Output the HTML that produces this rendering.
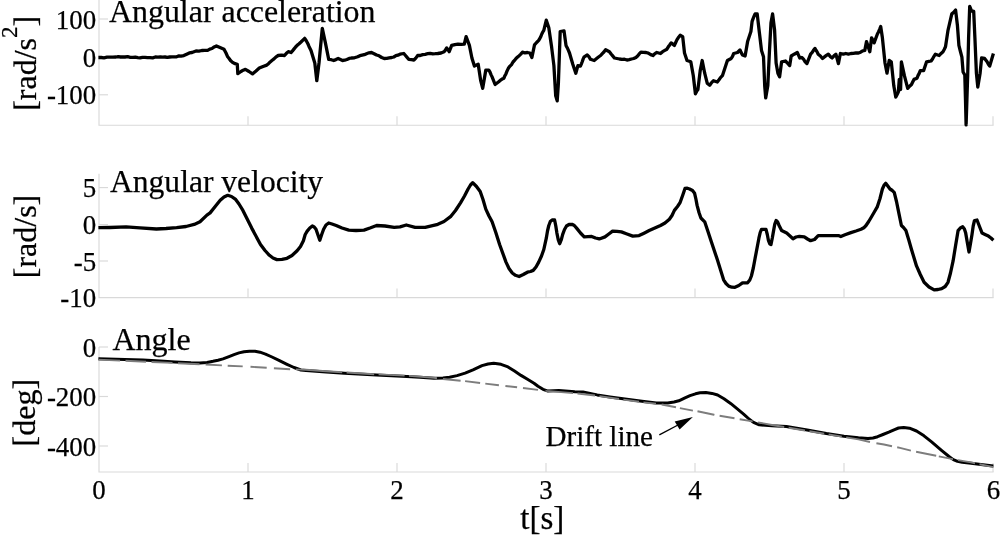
<!DOCTYPE html>
<html lang="en"><head><meta charset="utf-8"><title>Angular acceleration, velocity and angle</title>
<style>
html,body{margin:0;padding:0;background:#fff;}
body{width:1000px;height:535px;overflow:hidden;}
svg{display:block;}
text{font-family:"Liberation Serif","Times New Roman",serif;fill:#000;stroke:#000;stroke-width:0.25px;}
.tk{font-size:26.9px;}
.ti{font-size:31.8px;}
.an{font-size:29.1px;}
.lb{font-size:32px;}
.sup{font-size:23px;}
</style></head><body>
<svg width="1000" height="535" viewBox="0 0 1000 535">
<rect width="1000" height="535" fill="#fff"/>
<g stroke="#d9d9d9" stroke-width="1.15" fill="none">
<path d="M99.0 0.0 V125.2 H993.6"/>
<path d="M248.0 125.2 v-9"/>
<path d="M397.0 125.2 v-9"/>
<path d="M546.0 125.2 v-9"/>
<path d="M695.0 125.2 v-9"/>
<path d="M844.0 125.2 v-9"/>
<path d="M993.0 125.2 v-9"/>
<path d="M99.0 19.0 h9"/>
<path d="M99.0 57.0 h9"/>
<path d="M99.0 94.8 h9"/>
<path d="M99.0 173.7 V297.6 H993.6"/>
<path d="M248.0 297.6 v-9"/>
<path d="M397.0 297.6 v-9"/>
<path d="M546.0 297.6 v-9"/>
<path d="M695.0 297.6 v-9"/>
<path d="M844.0 297.6 v-9"/>
<path d="M993.0 297.6 v-9"/>
<path d="M99.0 187.6 h9"/>
<path d="M99.0 224.6 h9"/>
<path d="M99.0 261.0 h9"/>
<path d="M99.0 347.0 V472.0 H993.6"/>
<path d="M248.0 472.0 v-9"/>
<path d="M397.0 472.0 v-9"/>
<path d="M546.0 472.0 v-9"/>
<path d="M695.0 472.0 v-9"/>
<path d="M844.0 472.0 v-9"/>
<path d="M993.0 472.0 v-9"/>
<path d="M99.0 347.0 h9"/>
<path d="M99.0 396.5 h9"/>
<path d="M99.0 446.0 h9"/>
</g>
<g class="tk" text-anchor="end">
<text x="96.2" y="28.5">100</text>
<text x="96.2" y="66.5">0</text>
<text x="96.2" y="104.3">-100</text>
<text x="96.2" y="197.1">5</text>
<text x="96.2" y="234.1">0</text>
<text x="96.2" y="270.5">-5</text>
<text x="96.2" y="307.1">-10</text>
<text x="96.2" y="356.5">0</text>
<text x="96.2" y="406.0">-200</text>
<text x="96.2" y="455.5">-400</text>
</g>
<g class="tk" text-anchor="middle">
<text x="99.0" y="498.6">0</text>
<text x="248.0" y="498.6">1</text>
<text x="397.0" y="498.6">2</text>
<text x="546.0" y="498.6">3</text>
<text x="695.0" y="498.6">4</text>
<text x="844.0" y="498.6">5</text>
<text x="993.5" y="498.6">6</text>
</g>
<text class="ti" x="109" y="21.8" textLength="266.5" lengthAdjust="spacingAndGlyphs">Angular acceleration</text>
<text class="ti" x="110" y="192.3" textLength="213" lengthAdjust="spacingAndGlyphs">Angular velocity</text>
<text class="ti" x="112.4" y="349.6" textLength="78.3" lengthAdjust="spacingAndGlyphs">Angle</text>
<text class="an" x="545.5" y="445.5">Drift line</text>
<text class="lb" style="font-size:33px" text-anchor="middle" x="542.3" y="529">t[s]</text>
<text class="lb" text-anchor="middle" transform="translate(35.9 63.3) rotate(-90)">[rad/s<tspan class="sup" dy="-18.6">2</tspan><tspan dy="18.6">]</tspan></text>
<text class="lb" text-anchor="middle" transform="translate(36.2 236.5) rotate(-90)">[rad/s]</text>
<text class="lb" text-anchor="middle" transform="translate(34.8 412.7) rotate(-90)">[deg]</text>
<g fill="none" stroke="#000" stroke-linejoin="round" stroke-linecap="butt">
<polyline stroke-width="3.3" points="98.4,57.5 101.2,57.5 104.0,57.8 107.0,57.2 110.0,57.2 113.0,57.2 116.0,57.0 118.2,56.6 120.5,57.0 122.8,56.9 125.0,57.0 127.7,56.7 130.3,57.3 133.0,57.4 135.3,57.2 137.7,57.7 140.0,57.9 142.5,57.4 145.0,57.4 147.5,57.6 150.0,57.6 152.7,57.8 155.3,57.0 158.0,57.2 160.3,56.9 162.7,57.2 165.0,57.0 167.3,57.4 169.7,57.0 172.0,56.9 174.3,56.8 176.6,56.8 179.0,55.9 181.0,56.2 183.8,55.6 186.7,54.2 189.3,52.9 192.0,52.5 196.0,51.0 198.9,51.1 201.8,50.5 204.7,50.3 207.6,50.4 209.8,49.1 212.0,48.5 214.2,46.9 216.4,45.9 220.0,47.5 224.0,49.2 226.0,53.0 227.7,56.8 229.1,58.5 230.5,60.5 232.8,62.6 235.1,63.7 237.3,64.3 237.8,73.7 241.0,71.5 243.2,70.2 245.4,69.4 249.0,71.5 252.5,73.9 254.2,72.5 256.0,71.0 259.3,68.1 263.0,66.5 266.8,65.1 268.5,63.7 270.2,61.9 271.9,60.5 274.0,58.9 276.1,56.8 278.2,55.5 281.4,55.1 284.5,55.5 286.4,53.3 288.3,51.7 291.0,52.5 292.5,50.9 294.1,48.9 295.6,47.0 297.1,45.4 299.1,43.8 301.0,42.0 302.9,40.1 304.7,38.3 306.4,41.0 308.0,44.0 309.0,46.4 310.0,48.4 311.0,50.4 314.8,63.0 316.8,80.7 319.0,63.0 322.3,28.3 325.4,42.9 328.7,59.3 331.2,59.7 333.7,60.5 335.9,59.6 338.2,58.5 340.4,59.5 342.5,60.5 344.7,60.2 346.9,59.5 349.2,58.4 351.4,58.0 354.5,57.8 357.7,56.8 359.9,55.7 362.1,55.2 364.3,54.7 366.5,53.7 369.0,52.8 371.5,52.5 374.1,53.7 376.6,55.0 379.1,55.8 381.7,57.5 384.2,58.5 386.7,58.4 389.2,57.9 391.7,57.5 393.8,57.0 395.9,55.7 397.9,55.2 400.0,54.2 403.8,53.5 405.5,55.5 407.1,57.4 408.8,59.3 411.4,59.6 413.9,60.0 415.8,58.1 417.7,55.5 420.2,55.5 422.7,54.6 425.2,54.3 427.7,53.7 430.2,53.3 432.8,53.8 435.3,53.7 437.8,53.5 441.0,53.0 444.1,51.7 445.4,50.1 446.7,47.9 447.9,49.6 449.2,51.7 451.7,45.4 454.9,44.6 458.0,44.1 461.1,44.3 464.3,44.1 466.1,36.6 469.4,45.4 471.9,58.0 474.4,66.1 478.2,64.3 480.7,80.7 482.7,88.3 485.8,70.1 488.8,70.1 489.9,71.9 491.0,74.6 492.1,76.9 495.1,84.5 498.4,82.0 500.2,80.4 502.1,79.1 503.9,78.2 504.8,75.8 505.7,74.4 506.7,71.8 507.6,69.9 508.5,68.1 510.0,66.1 511.5,64.6 513.0,62.0 514.5,60.4 516.0,58.5 517.6,57.0 519.2,55.7 520.8,54.1 522.4,52.2 524.9,52.8 527.4,52.5 529.9,53.0 530.9,55.2 531.9,57.5 534.5,44.9 536.6,42.5 538.7,40.4 539.7,38.7 540.7,36.8 541.8,34.0 542.8,32.0 543.8,30.3 546.3,20.2 548.8,27.8 551.4,45.4 553.9,65.6 555.7,95.9 557.2,100.9 558.4,83.2 560.2,31.5 564.0,30.8 566.0,45.4 567.2,47.7 568.3,50.2 569.5,53.0 572.8,64.3 575.8,73.2 577.9,65.6 580.4,66.1 581.4,63.8 582.3,61.5 583.2,58.9 584.2,56.8 587.2,55.0 588.9,56.7 590.5,59.3 594.2,60.5 596.3,58.8 598.5,57.0 600.6,55.5 602.3,53.6 603.9,52.0 605.6,49.7 609.4,51.7 611.1,54.0 612.7,55.9 614.4,58.0 616.9,58.5 619.5,59.0 622.0,59.3 624.5,59.2 627.0,60.0 629.2,59.7 631.5,59.0 633.7,58.5 635.9,57.5 637.6,56.0 639.2,53.9 640.9,52.2 643.5,52.3 646.0,52.5 648.3,53.1 650.7,54.6 653.0,55.5 654.9,53.6 656.8,52.5 660.5,53.5 662.6,51.7 664.8,50.4 666.9,49.2 668.3,46.8 669.7,44.9 671.1,42.9 674.4,45.4 675.7,42.5 676.9,39.9 678.2,37.8 680.2,35.3 682.7,36.6 684.5,53.0 687.0,60.5 690.8,61.8 693.3,75.7 695.4,93.8 696.6,91.4 697.9,89.6 700.2,70.6 702.2,60.5 704.7,73.2 707.2,83.2 709.7,85.3 711.6,82.6 713.5,80.7 717.3,82.0 719.0,79.8 720.7,77.4 722.4,75.7 727.4,60.5 731.2,58.5 732.5,56.3 733.7,53.5 737.5,52.5 740.0,49.9 741.2,52.6 742.5,55.0 745.1,56.0 747.6,41.6 750.9,31.5 752.1,21.4 753.1,18.6 754.1,16.2 755.1,13.9 757.2,13.9 759.4,32.8 761.5,50.4 763.5,56.8 764.7,85.8 765.7,97.9 767.8,85.8 769.5,50.4 771.0,22.7 772.6,13.9 774.6,30.3 776.1,63.0 777.9,73.2 779.6,76.9 781.6,61.8 785.4,61.0 787.5,63.2 789.7,65.6 791.2,56.0 794.2,54.2 797.3,52.5 798.5,55.1 799.8,58.0 801.8,57.5 803.5,59.2 805.2,61.9 806.9,63.6 810.6,54.2 812.0,52.7 813.5,50.3 814.9,48.4 816.0,50.3 817.1,51.9 818.2,54.2 820.4,56.0 822.5,58.5 824.4,56.9 826.4,55.4 828.3,54.2 830.2,56.4 832.1,58.0 834.0,55.8 835.9,54.2 838.4,63.6 840.4,53.5 843.3,54.2 845.8,53.5 848.4,54.1 850.9,53.5 853.4,53.4 856.0,52.8 858.5,53.0 860.6,52.2 862.7,50.8 864.8,50.4 866.5,41.6 869.8,51.7 871.6,37.8 872.9,40.4 874.1,42.9 877.4,34.0 878.5,31.9 879.6,29.3 880.7,26.5 882.4,37.8 885.0,63.0 887.0,73.2 889.2,60.5 891.3,61.8 893.8,85.8 895.8,97.1 897.0,94.8 898.3,92.1 899.3,79.4 900.6,89.5 901.4,61.8 904.4,75.7 907.7,88.3 909.6,86.2 911.5,84.5 912.8,81.8 914.0,79.4 917.0,78.2 918.1,75.4 919.2,73.4 920.3,70.6 923.6,70.6 926.6,61.8 928.9,61.4 931.1,61.0 932.5,59.0 934.0,56.3 935.4,54.2 939.2,55.5 941.1,53.4 943.0,51.7 944.2,49.5 945.5,46.7 948.0,30.3 951.8,13.9 953.7,12.4 955.6,10.1 957.4,25.2 958.9,45.4 960.3,51.0 961.9,57.2 963.1,72.0 964.8,75.0 965.5,100.0 966.1,124.9 966.9,100.0 967.7,75.0 968.6,37.8 969.7,6.3 971.5,10.8 973.7,11.4 974.9,37.8 976.4,73.2 977.8,87.0 980.1,73.2 981.6,58.0 984.6,58.5 987.1,61.8 988.4,64.3 989.7,66.1 991.7,59.3 993.4,53.5"/>
<polyline stroke-width="3.3" points="98.4,227.7 110.0,227.5 126.1,226.9 140.0,227.8 156.4,229.0 166.0,228.5 176.6,227.7 186.0,226.5 194.2,224.4 200.0,221.8 206.9,215.1 210.1,212.9 214.0,208.0 220.2,200.3 224.0,197.0 227.7,195.3 231.5,196.5 235.3,199.1 239.0,204.0 242.9,210.4 251.7,228.1 260.5,244.5 265.0,250.5 269.4,255.3 273.0,258.0 276.9,259.6 282.0,259.3 287.0,258.3 292.0,255.5 297.1,250.8 300.5,246.5 303.4,240.7 305.2,234.5 307.2,231.1 309.8,228.0 312.3,226.0 314.2,227.0 316.0,229.3 317.8,234.5 319.8,240.2 321.7,234.5 323.6,229.3 326.0,225.0 328.7,223.0 332.0,224.0 336.2,225.5 342.0,228.0 348.8,230.1 356.0,230.5 364.0,230.1 370.0,228.0 376.6,225.5 385.0,226.0 394.2,227.3 400.0,226.8 406.3,225.0 415.1,227.3 425.2,227.3 437.8,224.3 444.0,221.5 450.5,216.7 455.5,210.5 460.5,202.8 464.5,196.0 468.1,189.0 470.5,185.0 472.7,182.7 476.5,186.5 480.2,191.5 483.0,199.5 485.8,209.1 489.0,216.0 492.1,221.8 495.8,232.5 499.6,244.5 506.0,262.1 509.0,268.5 512.3,273.0 515.5,275.3 519.1,276.5 523.3,274.5 527.4,272.2 530.5,271.5 533.2,270.4 536.0,267.0 538.7,262.1 541.5,256.0 543.8,249.5 546.3,238.2 547.5,231.0 548.8,225.5 550.3,221.5 552.1,220.0 554.6,220.0 555.8,226.0 556.9,233.1 558.3,240.0 559.7,243.7 561.2,240.0 562.7,234.4 564.5,229.5 566.5,226.0 569.0,224.5 572.0,224.3 574.3,225.5 576.6,228.1 580.5,233.0 584.2,236.9 591.7,236.4 595.5,238.0 599.3,238.9 600.0,238.7 605.0,236.9 608.8,234.0 612.6,231.1 617.0,231.3 621.4,231.9 627.0,234.0 632.8,236.1 639.1,235.6 644.0,233.2 649.2,230.6 660.5,225.5 665.0,223.0 669.4,219.2 672.0,215.5 674.4,210.4 677.5,206.5 680.2,202.3 682.8,195.0 685.0,188.5 687.3,188.2 689.6,189.0 692.5,190.5 694.6,193.3 695.9,199.0 697.1,205.4 699.0,212.5 700.9,218.0 704.7,221.8 707.8,231.0 711.0,240.7 717.3,259.6 723.6,279.8 726.0,283.5 728.7,286.1 731.8,287.2 735.0,287.3 738.8,285.5 742.5,282.8 747.6,282.8 749.8,280.0 751.4,276.0 753.3,268.0 755.1,258.3 758.9,238.2 760.2,232.5 761.5,229.3 766.0,229.3 767.3,234.5 768.5,240.7 769.8,244.0 771.0,244.5 772.3,238.0 773.6,230.6 774.8,224.0 776.1,220.5 777.6,222.0 779.1,225.5 781.6,230.6 786.7,233.1 790.0,236.0 793.0,238.7 796.0,237.0 799.3,236.4 804.3,236.9 807.5,239.0 810.6,240.7 814.5,239.5 818.2,235.6 828.0,235.6 838.4,235.6 840.8,236.6 845.0,234.8 850.9,232.6 856.0,231.0 861.0,229.3 863.8,227.8 866.0,225.5 868.7,221.5 871.1,217.5 874.3,212.0 877.4,206.6 880.0,198.5 882.4,189.0 884.2,185.0 885.7,183.2 887.8,186.0 890.0,189.0 892.3,190.5 894.3,192.7 896.5,201.5 898.8,212.9 901.4,225.5 903.5,227.5 905.9,230.6 908.8,240.0 911.5,249.5 916.5,265.9 920.3,274.5 924.1,282.3 929.0,287.0 934.2,289.9 938.0,289.5 941.7,288.6 945.2,286.5 948.0,282.3 950.5,273.0 953.1,260.9 955.6,245.5 958.1,230.6 960.3,228.0 962.7,226.8 964.4,229.0 965.7,233.1 967.4,243.0 969.0,252.0 970.5,243.5 972.0,234.4 973.2,226.0 974.5,220.5 977.0,220.0 979.5,226.5 982.1,233.1 985.0,234.5 988.4,236.1 991.0,238.0 993.4,240.2"/>
<polyline stroke-width="3" points="98.4,358.8 125.0,359.6 143.0,360.1 160.0,361.0 175.0,361.9 191.0,362.8 200.0,362.9 207.0,362.4 213.0,361.3 218.0,360.2 223.0,358.9 229.0,356.6 234.0,354.6 239.0,352.9 244.0,351.8 249.5,351.2 255.0,351.3 260.0,352.2 265.5,354.1 272.0,357.0 279.5,360.7 287.0,364.3 294.0,367.5 300.9,370.0 306.0,370.6 326.1,372.0 344.4,373.2 376.4,375.1 406.8,376.4 420.0,377.3 434.0,378.3 443.0,378.1 449.5,377.2 457.0,375.6 465.1,373.1 473.0,369.8 482.0,365.6 488.0,364.0 493.7,363.2 501.0,364.3 508.0,366.9 514.5,371.0 521.0,375.4 527.5,379.3 534.0,383.2 538.0,386.2 543.0,389.3 548.0,391.1 558.8,390.6 574.8,391.7 583.0,391.9 597.2,394.9 610.0,397.0 621.2,398.6 642.0,401.3 656.4,402.9 667.6,402.9 674.0,402.0 678.8,400.8 685.0,397.9 690.0,395.7 695.5,393.8 700.0,392.8 705.9,392.5 712.0,393.4 717.6,395.0 724.0,398.8 730.6,403.4 737.0,408.6 743.6,414.1 749.6,419.5 753.5,422.4 759.2,424.8 772.0,425.8 786.4,426.4 807.2,429.9 826.4,433.5 844.0,436.2 858.4,437.8 868.0,438.6 873.0,438.0 877.6,436.7 883.0,434.5 888.8,432.2 894.0,429.8 898.5,428.0 903.7,427.4 909.5,428.2 916.5,431.0 924.0,435.8 931.6,441.9 941.5,450.3 949.0,456.5 953.3,459.6 957.5,461.3 962.2,462.3 971.0,463.2 983.0,464.7 993.4,466.0"/>
</g>
<path d="M98.4 359.6 L120.0 360.6 M125.5 360.8 L146.0 361.7 M151.5 362.0 L172.5 362.9 M178.0 363.2 L199.5 364.2 M205.6 364.5 L221.9 365.4 M227.7 365.7 L242.7 366.4 M250.5 366.8 L266.7 367.8 M273.9 368.2 L290.0 369.2 L290.1 369.2 M296.0 369.4 L300.9 369.6 L306.0 369.8 L326.1 371.2 L342.2 372.3 M346.6 372.5 L374.2 374.2 M378.6 374.4 L404.6 375.6 M409.0 375.9 L434.0 377.8 L437.0 378.2 M443.0 379.0 L460.6 380.7 M465.1 381.1 L480.1 383.0 M485.3 383.6 L498.9 385.3 M505.4 386.0 L517.1 387.3 M523.0 388.0 L538.0 389.9 M545.5 390.8 L546.3 390.9 L573.0 393.1 M577.5 393.5 L595.0 395.5 M599.4 396.1 L619.0 399.0 M623.4 399.6 L639.0 401.8 M643.4 402.4 L656.0 403.8 M661.7 404.5 L676.0 407.3 M679.9 408.1 L692.9 410.6 M697.5 411.3 L714.0 414.8 L714.4 414.9 M719.6 415.8 L734.5 418.3 M739.7 419.2 L752.7 421.4 M758.0 422.4 L772.0 425.0 L784.2 427.0 M788.6 427.8 L805.0 430.5 M809.4 431.3 L824.2 433.7 M828.6 434.5 L841.8 436.6 M846.2 437.4 L858.4 439.4 L870.0 442.0 M876.4 443.2 L884.0 444.5 L892.0 446.2 M897.2 447.3 L900.0 447.9 L910.9 450.6 M916.1 451.8 L936.2 455.8 M938.8 456.4 L951.5 458.9 L953.0 459.2 M958.0 460.1 L971.0 462.4 L975.0 463.2 M979.5 464.2 L993.4 467.1" fill="none" stroke="#7d7d7d" stroke-width="1.9"/>
<path d="M659.3 434.8 L678 425" stroke="#000" stroke-width="1.4" fill="none"/>
<path d="M692.9 417.1 L674.7 421.6 L679.6 429.4 Z" fill="#000"/>
</svg>
</body></html>
